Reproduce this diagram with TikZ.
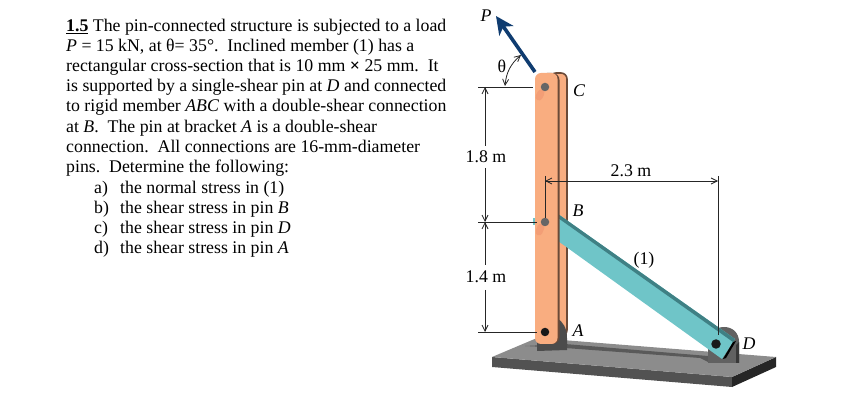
\documentclass[tikz,border=0pt]{standalone}
\usepackage{fontspec}
\setmainfont{Liberation Serif}
\usetikzlibrary{arrows.meta,calc}
\definecolor{peach}{HTML}{F9AD80}
\definecolor{peachshade}{HTML}{F39E76}
\definecolor{peachedge}{HTML}{6B4A38}
\definecolor{teal1}{HTML}{6FC5C8}
\definecolor{teal2}{HTML}{3F8084}
\definecolor{navy}{HTML}{0F3C70}
\tikzset{
  bodyfont/.style={font=\fontsize{17.8}{21}\selectfont},
  txt/.style={bodyfont,anchor=base west,inner sep=0pt},
  lab/.style={inner sep=0pt,font=\fontsize{17.8}{21}\selectfont\itshape},
  plain/.style={bodyfont,inner sep=0pt},
  dimtxt/.style={bodyfont,inner sep=0pt},
  dimline/.style={draw=black!85,line width=0.8pt},
  dimarrow/.style={dimline,-{Straight Barb[length=6pt,width=6pt]}},
  twoarrow/.style={dimline,{Straight Barb[length=6pt,width=6pt]}-{Straight Barb[length=6pt,width=6pt]}},
  pin/.style={circle,inner sep=0pt,minimum size=8.5pt,fill=#1},
  pinshade/.style={peachshade,line width=7pt,line cap=round},
}
\begin{document}
\begin{tikzpicture}[x=1pt,y=-1pt]
\useasboundingbox (0,0) rectangle (843,411);
% text
\node[txt] (t1) at (66,32) {\underline{\textbf{1.5}} The pin-connected structure is subjected to a load};
\node[txt] (t2) at (66,52) {\textit{P} = 15 kN, at θ= 35°.\ \ Inclined member (1) has a};
\node[txt] (t3) at (66,72) {rectangular cross-section that is 10 mm \textbf{×} 25 mm.\ \ It};
\node[txt] (t4) at (66,92) {is supported by a single-shear pin at \textit{D} and connected};
\node[txt] (t5) at (66,112) {to rigid member \textit{ABC} with a double-shear connection};
\node[txt] (t6) at (66,133) {at \textit{B}.\ \ The pin at bracket \textit{A} is a double-shear};
\node[txt] (t7) at (66,153) {connection.\ \ All connections are 16-mm-diameter};
\node[txt] (t8) at (66,173) {pins.\ \ Determine the following:};
\node[txt] (t9) at (94,194) {\makebox[26pt][l]{a)}the normal stress in (1)};
\node[txt] (t10) at (94,214) {\makebox[26pt][l]{b)}the shear stress in pin \textit{B}};
\node[txt] (t11) at (94,234) {\makebox[26pt][l]{c)}the shear stress in pin \textit{D}};
\node[txt] (t12) at (94,254) {\makebox[26pt][l]{d)}the shear stress in pin \textit{A}};
% base plate
\fill[black!68] (492,357) -- (732,377) -- (732,387) -- (492,367) -- cycle;
\fill[black!85] (732,377) -- (776,357) -- (776,367) -- (732,387) -- cycle;
\fill[black!45] (492,357) -- (537,338) -- (776,357) -- (732,377) -- cycle;
\fill[black!65] (525,346) -- (565,344) -- (708,356) -- (708,362) -- (700,358) -- (565,348) -- cycle;
% bracket D
\fill[black!62] (708,363) -- (708,342) .. controls (708,333) and (716,327) .. (724,327) .. controls (733,327) and (739,333) .. (739,342) -- (739,363) -- cycle;
\fill[black!78] (736,345) -- (739,342) -- (739,363) -- (736,363) -- cycle;
% back bar of ABC
\fill[peach,draw=peachedge,line width=1.6pt,rounded corners=6pt] (550,73) -- (567,73) -- (567,336) -- (550,336) -- cycle;
% bracket A
\fill[black!70] (537,351) -- (537,318) -- (557,318) .. controls (563,322) and (567,328) .. (567,338) -- (567,350) -- cycle;
% beam
\fill[teal1] (533,218) -- (540,218) -- (540,225) -- (533,225) -- cycle;
\fill[teal1] (558,214) -- (735,339) -- (722,359) -- (558,241) -- cycle;
\fill[teal2] (558,214) -- (735,339) -- (733,342) -- (558,218) -- cycle;
\fill[black] (733,342) -- (736,341) -- (726,358) -- (723,359) -- cycle;
% front bar of ABC
\fill[peachedge,rounded corners=7pt] (540,73) -- (559.5,73) -- (559.5,344) -- (540,344) -- cycle;
\fill[peach,rounded corners=6pt] (535,73) -- (557.5,73) -- (557.5,344) -- (535,344) -- cycle;
\draw[pinshade] (541,93) -- (539,97);
\draw[pinshade] (541,227) -- (539,232);
% pins
\node[pin=black!60] (C) at (545,87) {};
\node[pin=black!60] (B) at (545,222) {};
\node[pin=black!90] (A) at (545,332) {};
\node[pin=black!90,minimum size=9.5pt] (D) at (716,344) {};
% force
\coordinate (Ptail) at (535,72);
\coordinate (Ptip) at (496,16);
\draw[navy,line width=3.6pt,-{Stealth[length=18pt,width=17pt,inset=5pt]}] (Ptail) -- (Ptip);
% dimensions
\coordinate (hC) at (478,87);
\coordinate (hB) at (478,222);
\coordinate (hA) at (478,332);
\coordinate (cE) at (533,87);
\coordinate (v1) at (485,87);
\coordinate (v2) at (485,222);
\coordinate (v3) at (485,332);
\coordinate (v1m) at (485,146);
\coordinate (v2m) at (485,168);
\coordinate (v3m) at (485,265);
\coordinate (v4m) at (485,290);
\draw[dimline] (hC) -- (cE);
\draw[dimline,shorten >=4pt] (hB) -- (B.west);
\draw[dimline,shorten >=4pt] (hA) -- (A.west);
\draw[dimarrow] (v1m) -- (v1);
\draw[dimarrow] (v2m) -- (v2);
\draw[dimarrow] (v3m) -- (v2);
\draw[dimarrow] (v4m) -- (v3);
\node[dimtxt] (d18) at (486,157) {1.8 m};
\node[dimtxt] (d14) at (486,277) {1.4 m};
\coordinate (dl) at (545,181);
\coordinate (dr) at (718,181);
\coordinate (dlt) at (545,176);
\coordinate (drt) at (718,176);
\coordinate (drb) at (718,335);
\draw[dimline] (dlt) -- (B.north);
\draw[dimline] (drt) -- (drb);
\draw[twoarrow] (dl) -- (dr);
\node[plain] (d23) at (631,171) {2.3 m};
% angle
\coordinate (a1) at (505,86);
\coordinate (a2) at (521,55);
\draw[twoarrow] (a1) to[bend left=22] (a2);
\node[plain] (th) at (502,66) {θ};
% labels
\node[lab] (lP) at (486,16) {P};
\node[lab] (lC) at (579,91) {C};
\node[lab] (lB) at (578,211) {B};
\node[lab] (lA) at (578,331) {A};
\node[lab] (lD) at (749,344) {D};
\node[plain] (l1) at (644,260) {(1)};
\end{tikzpicture}
\end{document}
